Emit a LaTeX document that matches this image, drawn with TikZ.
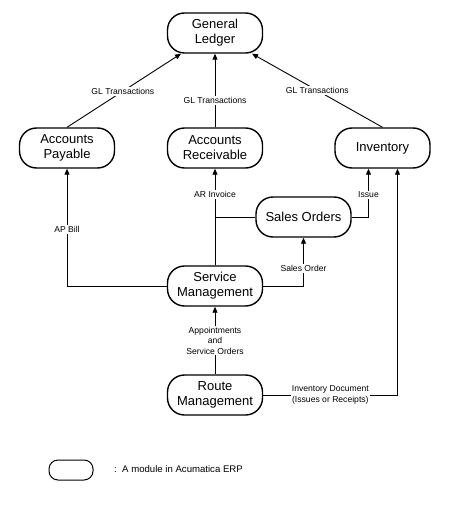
\documentclass[tikz,border=0pt]{standalone}
\usepackage{fontspec}
\setmainfont{Liberation Sans}
\usetikzlibrary{arrows.meta,calc}
\begin{document}
\begin{tikzpicture}[x=1pt,y=-1pt,
  module/.style={draw=black,line width=1.4pt,rounded corners=17pt,minimum width=95pt,minimum height=40pt,inner sep=0pt,align=center,font=\fontsize{13}{15}\selectfont},
  conn/.style={draw=black,line width=0.9pt,-{Triangle[length=6pt,width=5pt]}},
  plain/.style={draw=black,line width=0.9pt},
  lbl/.style={fill=white,inner sep=1.2pt,align=center,font=\fontsize{8.6}{10.5}\selectfont}]
\useasboundingbox (0,0) rectangle (450,505);
\node[module] (gl) at (215,33) {General\\Ledger};
\node[module] (ap) at (67,148) {Accounts\\Payable};
\node[module] (ar) at (215,148) {Accounts\\Receivable};
\node[module] (inv) at (382.5,148) {Inventory};
\node[module] (so) at (303.5,217) {Sales Orders};
\node[module] (sm) at (215,286) {Service\\Management};
\node[module] (rm) at (215,395) {Route\\Management};
\node[draw=black,line width=1pt,rounded corners=9pt,minimum width=44pt,minimum height=20pt,inner sep=0pt] (leg) at (71,470) {};
\node[anchor=west,inner sep=0pt,font=\fontsize{9.6}{11}\selectfont] (legt) at (114,469) {:\ \ A module in Acumatica ERP};

\draw[conn] (ap.north) -- ([xshift=-34pt]gl.south) node[lbl,pos=0.49] {GL Transactions};
\draw[conn] (ar.north) -- (gl.south) node[lbl,pos=0.36] {GL Transactions};
\draw[conn] (inv.north) -- ([xshift=37pt]gl.south) node[lbl,pos=0.5] {GL Transactions};

\draw[conn] (sm.west) -| (ap.south) node[lbl,pos=0.74] {AP Bill};
\draw[conn] (sm.north) -- (ar.south) node[lbl,pos=0.735] {AR Invoice};
\draw[plain] (so.west) -- (so.west -| ar.south);
\draw[conn] (so.east) -| ([xshift=-14pt]inv.south) node[lbl,pos=0.73] {Issue};
\draw[conn] (sm.east) -| (so.south) node[lbl,pos=0.68] {Sales Order};
\draw[conn] (rm.north) -- (sm.south) node[lbl,pos=0.5] {Appointments\\and\\Service Orders};
\draw[conn] (rm.east) -| ([xshift=15pt]inv.south) node[lbl,pos=0.25] {Inventory Document\\(Issues or Receipts)};
\end{tikzpicture}
\end{document}
